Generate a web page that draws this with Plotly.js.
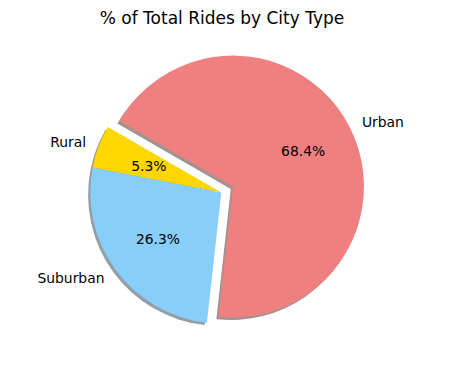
<!DOCTYPE html>
<html><head><meta charset="utf-8">
<script src="https://cdn.plot.ly/plotly-3.0.1.min.js"></script>
<style>html,body{margin:0;padding:0;background:#fff}</style>
</head><body><div id="chart" style="width:459px;height:376px"></div>
<script>
const cityTypes = ["Rural", "Suburban", "Urban"];
const totalRides = [125, 625, 1625];
const sliceColors = ["#FFD700", "#87CEFA", "#F08080"];
const explode = [0, 0, 0.1];
const chartTitle = "% of Total Rides by City Type";

const W = 459, H = 376;
const CX = 221.3, CY = 192.5, R = 131;
const total = totalRides.reduce((a, b) => a + b, 0);
const rotation = -60 - 360 * totalRides[0] / total;

function domainFor(cx, cy, r, maxPull) {
  const half = r * (1 + maxPull);
  return {x: [(cx - half) / W, (cx + half) / W], y: [(H - cy - half) / H, (H - cy + half) / H]};
}
function shade(hex) {
  const n = parseInt(hex.slice(1), 16);
  const r = (n >> 16) & 255, g = (n >> 8) & 255, b = n & 255;
  return `rgba(${Math.round(r * 0.3)},${Math.round(g * 0.3)},${Math.round(b * 0.3)},0.5)`;
}
const clear = cityTypes.map(() => 'rgba(0,0,0,0)');
const common = {type: 'pie', labels: cityTypes, values: totalRides, sort: false,
  direction: 'counterclockwise', rotation: rotation, hoverinfo: 'none', showlegend: false};
const font = {family: 'DejaVu Sans, sans-serif', size: 13.9, color: '#000'};

const labelPull = explode.map(p => p * R / 140);
const traces = [
  Object.assign({}, common, {domain: domainFor(CX - 2.2, CY + 2.4, R, 0.1), pull: explode,
    marker: {colors: sliceColors.map(shade), line: {width: 0}}, textinfo: 'none'}),
  Object.assign({}, common, {domain: domainFor(CX, CY, R, 0.1), pull: explode,
    marker: {colors: sliceColors, line: {width: 0}}, textinfo: 'none'}),
  Object.assign({}, common, {domain: domainFor(CX, CY, R, 0.1), pull: explode, hole: 0.2,
    marker: {colors: clear, line: {width: 0}},
    texttemplate: ['', '%{percent:.1%}', '%{percent:.1%}'], textposition: 'inside',
    insidetextorientation: 'horizontal', insidetextfont: font}),
  Object.assign({}, common, {domain: domainFor(CX + 4.5, CY - 5, 59, 0), pull: 0,
    marker: {colors: clear, line: {width: 0}},
    texttemplate: ['%{percent:.1%}', '', ''], textposition: 'outside', outsidetextfont: font}),
  Object.assign({}, common, {domain: domainFor(CX, CY, 140, Math.max(...labelPull)), pull: labelPull,
    marker: {colors: clear, line: {width: 0}},
    texttemplate: '%{label}', textposition: 'outside', outsidetextfont: font})
];

const layout = {
  width: W, height: H,
  margin: {l: 0, r: 0, t: 0, b: 0},
  paper_bgcolor: '#fff', plot_bgcolor: '#fff',
  title: {text: chartTitle, font: {family: 'DejaVu Sans, sans-serif', size: 17, color: '#000'},
    x: 222 / W, xanchor: 'center', xref: 'container', y: 1 - 18 / H, yanchor: 'middle', yref: 'container'},
  showlegend: false
};
Plotly.newPlot('chart', traces, layout, {displayModeBar: false, staticPlot: true});
</script></body></html>
